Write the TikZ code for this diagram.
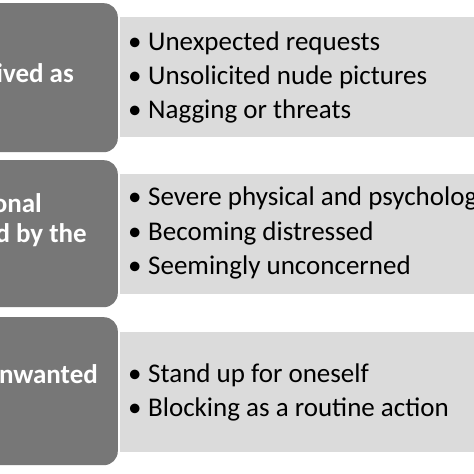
\documentclass[tikz,border=0pt]{standalone}
\usepackage{fontspec}
\setmainfont{Carlito}
\definecolor{darkbox}{HTML}{777777}
\definecolor{lightbox}{HTML}{DBDBDB}
\begin{document}
\begin{tikzpicture}[x=1pt,y=-1pt,
  dbox/.style={rectangle, rounded corners=14pt, fill=darkbox, draw=none, minimum width=180pt, anchor=north east, inner sep=0pt},
  lbox/.style={rectangle, fill=lightbox, draw=none, minimum width=380pt, anchor=north west, inner sep=0pt},
  item/.style={anchor=base west, inner sep=0pt, text=black, font=\fontsize{27}{32}\selectfont},
  head/.style={anchor=base east, inner sep=0pt, text=white, font=\fontsize{27}{32}\selectfont\bfseries}]
\useasboundingbox (0,0) rectangle (474,474);
\clip (0,0) rectangle (474,474);
\fill[white] (0,0) rectangle (474,474);
% dark boxes
\node[dbox, minimum height=149pt] (d1) at (118,3) {};
\node[dbox, minimum height=147pt] (d2) at (118,160) {};
\node[dbox, minimum height=148pt] (d3) at (118,317) {};
% light boxes
\node[lbox, minimum height=120pt] (l1) at (119.5,17) {};
\node[lbox, minimum height=120pt] (l2) at (119.5,174) {};
\node[lbox, minimum height=120pt] (l3) at (119.5,332) {};
% left headings
\node[head] (h1) at (74,82) {ived as};
\node[head] (h2a) at (42,212) {onal};
\node[head] (h2b) at (87,242) {d by the};
\node[head] (h3) at (98,383) {unwanted};
% bullet items
\node[item] (i11) at (128,50) {\makebox[20pt][l]{•}Unexpected requests};
\node[item] (i12) at (128,84) {\makebox[20pt][l]{•}Unsolicited nude pictures};
\node[item] (i13) at (128,118) {\makebox[20pt][l]{•}Nagging or threats};
\node[item] (i21) at (128,205) {\makebox[20pt][l]{•}Severe physical and psychological};
\node[item] (i22) at (128,240) {\makebox[20pt][l]{•}Becoming distressed};
\node[item] (i23) at (128,274) {\makebox[20pt][l]{•}Seemingly unconcerned};
\node[item] (i31) at (128,382) {\makebox[20pt][l]{•}Stand up for oneself};
\node[item] (i32) at (128,416) {\makebox[20pt][l]{•}Blocking as a routine action};
\end{tikzpicture}
\end{document}
